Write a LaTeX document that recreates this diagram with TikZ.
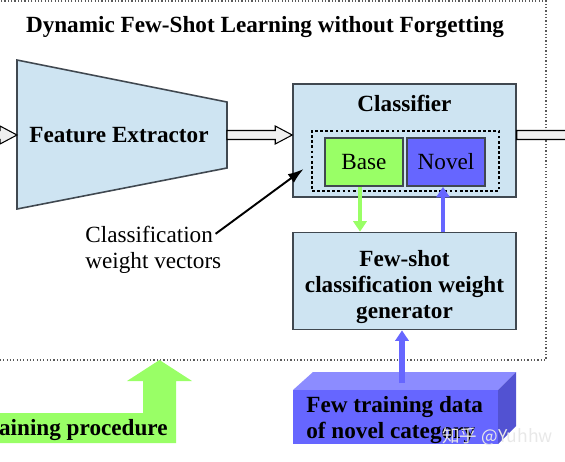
\documentclass[tikz,border=0pt]{standalone}
\usepackage{fontspec}
\setmainfont{Liberation Serif}
\newfontfamily\cjkfont{Noto Sans CJK SC}
\usetikzlibrary{arrows.meta,calc}

\definecolor{boxblue}{RGB}{206,228,242}
\definecolor{boxline}{RGB}{64,72,80}
\definecolor{basegreen}{RGB}{153,255,102}
\definecolor{novelblue}{RGB}{102,102,255}
\definecolor{noveltop}{RGB}{140,140,255}
\definecolor{novelside}{RGB}{82,82,210}

% hollow block arrow, tip at #2
\newcommand{\hollowarrow}[2]{%
  \draw[hollow] ($(#1)+(0,-4.5)$) -- ($(#2)+(-17,-4.5)$) -- ($(#2)+(-17,-9)$)
    -- (#2) -- ($(#2)+(-17,9)$) -- ($(#2)+(-17,4.5)$) -- ($(#1)+(0,4.5)$) -- cycle;}

\begin{document}
\fontsize{13.2}{15}\selectfont
\begin{tikzpicture}[x=0.02cm, y=-0.02cm,
    box/.style={draw=boxline, line width=0.9pt, fill=boxblue},
    lbl/.style={font=\bfseries},
    wbox/.style={draw=black, line width=1.6pt, dash pattern=on 1.6pt off 1.3pt},
    hollow/.style={draw=black, line width=0.6pt, fill=gray!12},
    flow/.style={line width=2.8pt, -{Triangle[length=6pt,width=7.5pt]}},
    pointer/.style={line width=1.1pt, -{Latex[length=9pt,width=6pt]}},
    frame/.style={draw=gray!70!black, line width=0.7pt, dash pattern=on 0.7pt off 1.2pt}]
        \clip (0,0) rectangle (565,461);

        % Outer dotted frame
        \draw[frame] (-5,1) rectangle (546,360);

        % Title
        \node[lbl, anchor=base] (title) at (265,32) {Dynamic Few-Shot Learning without Forgetting};

        % Feature extractor
        \draw[box] (17,60) -- (227,102) -- (227,168) -- (17,209) -- cycle;
        \node[lbl] (fe) at (119,135) {Feature Extractor};
        \coordinate (fein) at (17,135);
        \coordinate (feout) at (227,135);

        % Classifier
        \node[box, minimum width=4.46cm, minimum height=2.26cm] (cls) at (404.5,140.5) {};
        \node[lbl] (clstitle) at (404.5,103) {Classifier};
        \node[wbox, minimum width=3.74cm, minimum height=1.2cm] (wts) at (405.5,161) {};
        \node[draw=boxline, line width=0.9pt, fill=basegreen, minimum width=1.56cm, minimum height=0.96cm] (base) at (364,162) {Base};
        \node[draw=boxline, line width=0.9pt, fill=novelblue, minimum width=1.56cm, minimum height=0.96cm] (novel) at (446,162) {Novel};
        \coordinate (clsin) at ($(cls.west)+(0,-5.5)$);
        \coordinate (clsout) at ($(cls.east)+(0,-5.5)$);
        \coordinate (offright) at (600,135);
        \coordinate (offleft) at (-40,135);

        % Block arrows
        \hollowarrow{offleft}{fein}
        \hollowarrow{feout}{clsin}
        \hollowarrow{clsout}{offright}

        % Weight generator
        \node[box, minimum width=4.46cm, minimum height=1.94cm] (gen) at (404.5,281) {};
        \node[lbl, align=center] (gentext) at ($(gen.center)+(0,6)$) {Few-shot\\classification weight\\generator};

        % Weight vectors label
        \node[anchor=west, align=left, inner sep=0] (cwv) at (85,250) {Classification\\weight vectors};
        \draw[pointer] ($(cwv.north east)+(-6,8)$) -- ($(wts.west)+(-7,8)$);

        % Base / novel arrows
        \draw[flow, basegreen] ($(base.south)+(-4,0)$) -- ($(base.south |- gen.north)+(-4,0)$);
        \draw[flow, novelblue] ($(novel.south |- gen.north)+(-3,0)$) -- ($(novel.south)+(-3,0)$);

        % Novel training data (3D box)
        \fill[noveltop] (293,390) -- (313,372) -- (516,372) -- (498,390) -- cycle;
        \fill[novelside] (498,390) -- (516,372) -- (516,426) -- (498,444) -- cycle;
        \fill[novelblue] (293,390) rectangle (498,444);
        \node[lbl, anchor=west, align=left, inner sep=0] (data) at (306,420) {Few training data\\of novel category};
        \coordinate (datatop) at (402,383);
        \draw[flow, novelblue, line width=3.4pt] (datatop) -- (datatop |- gen.south);

        % Training procedure arrow
        \fill[basegreen] (-10,413) -- (143,413) -- (143,381) -- (127,381) -- (159.5,360) -- (192,381)
            -- (176,381) -- (176,443) -- (-10,443) -- cycle;
        \node[lbl, anchor=base east, inner sep=0] (train) at (168,435) {Training procedure};

        % Watermark
        \node[font=\cjkfont\fontsize{10}{12}\selectfont, text=gray!18, anchor=base west, inner sep=0] (wm) at (442,442) {知乎 @Yuhhw};

    \end{tikzpicture}
\end{document}
